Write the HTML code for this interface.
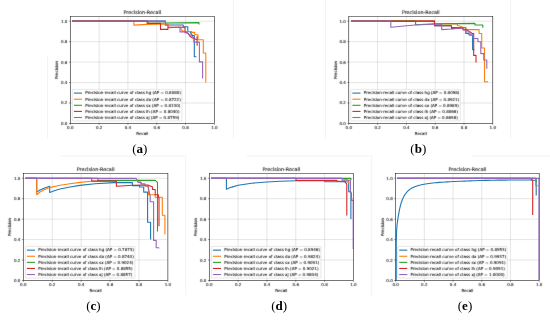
<!DOCTYPE html>
<html lang="en"><head><meta charset="utf-8"><title>Precision-Recall curves</title>
<style>
html,body{margin:0;padding:0;background:#fff;}
body{width:550px;height:323px;overflow:hidden;}
svg{display:block;}
.t{font-family:"DejaVu Sans","Liberation Sans",sans-serif;fill:#000;text-rendering:geometricPrecision;stroke:#000;stroke-width:0.28px;}
.c{font-family:"Liberation Serif",serif;fill:#000;}
</style></head><body>
<svg width="550" height="323" viewBox="0 0 550 323">
<rect width="550" height="323" fill="#fff"/>
<g>
<g stroke="#f3f3f3" stroke-width="1" fill="none"><path d="M47.5,56V138.5M233.4,0V138.5M325.5,0V138.5M510.5,0V138.5M60,156H185.7M246.6,156H371.7M472,156H550M185.7,156V295M371.7,156V296"/></g>
<g>
<path d="M70.30,16.40V123.45" stroke="#b0b0b0" stroke-width="0.32"/>
<path d="M70.30,123.45H214.40" stroke="#b0b0b0" stroke-width="0.32"/>
<path d="M99.12,16.40V123.45" stroke="#b0b0b0" stroke-width="0.32"/>
<path d="M70.30,103.00H214.40" stroke="#b0b0b0" stroke-width="0.32"/>
<path d="M127.94,16.40V123.45" stroke="#b0b0b0" stroke-width="0.32"/>
<path d="M70.30,82.55H214.40" stroke="#b0b0b0" stroke-width="0.32"/>
<path d="M156.76,16.40V123.45" stroke="#b0b0b0" stroke-width="0.32"/>
<path d="M70.30,62.10H214.40" stroke="#b0b0b0" stroke-width="0.32"/>
<path d="M185.58,16.40V123.45" stroke="#b0b0b0" stroke-width="0.32"/>
<path d="M70.30,41.65H214.40" stroke="#b0b0b0" stroke-width="0.32"/>
<path d="M214.40,16.40V123.45" stroke="#b0b0b0" stroke-width="0.32"/>
<path d="M70.30,21.20H214.40" stroke="#b0b0b0" stroke-width="0.32"/>
<clipPath id="cpa"><rect x="70.30" y="16.40" width="144.10" height="107.05"/></clipPath>
<g clip-path="url(#cpa)">
<path d="M72,21.1 H165.5 V25 H183.2 V26.8 H187.8 V31.5 H189.7 L192.5,35.6 H194.3 V56.7 H196.4" fill="none" stroke="#1f77b4" stroke-width="1.1" stroke-linejoin="round"/>
<path d="M72,21.1 H133.9 V25.1 L147,24.4 L160,24.2 H168.3 V27.3 H180.9 V29.1 L183.2,31.5 H191.5 V32.4 H194.8 V34.7 H198 V39.8 H203.3 V53 H205.8 V82.5" fill="none" stroke="#ff7f0e" stroke-width="1.1" stroke-linejoin="round"/>
<path d="M72,21.1 H147 V23.2 L199,22.6 V24.6" fill="none" stroke="#2ca02c" stroke-width="1.1" stroke-linejoin="round"/>
<path d="M72,21.1 H148 V23.4 H160.5 V29.4 H167.9 V27.7 L180,27.2 H185 V32.8 H187.8 L189.7,36.1 L192.5,38 L197.1,39.8 V36.5 V45.8" fill="none" stroke="#d62728" stroke-width="1.1" stroke-linejoin="round"/>
<path d="M72,21.1 H165.4 V25 H167.9 V27.3 H180 V31.9 H185 L190.6,35.2 L193.9,38 V42.1 H199.4 V61.9 H202.6 V78.4" fill="none" stroke="#9467bd" stroke-width="1.1" stroke-linejoin="round"/>
</g>
<rect x="72.30" y="89.35" width="109.6" height="31.6" rx="0.8" fill="#fff" fill-opacity="0.8" stroke="#ccc" stroke-width="0.45"/>
<path d="M73.90,93.10h8.1" stroke="#1f77b4" stroke-width="1.1"/>
<path d="M73.90,99.20h8.1" stroke="#ff7f0e" stroke-width="1.1"/>
<path d="M73.90,105.30h8.1" stroke="#2ca02c" stroke-width="1.1"/>
<path d="M73.90,111.40h8.1" stroke="#d62728" stroke-width="1.1"/>
<path d="M73.90,117.50h8.1" stroke="#9467bd" stroke-width="1.1"/>
<rect x="70.30" y="16.40" width="144.10" height="107.05" fill="none" stroke="#000" stroke-width="0.48"/>
<path d="M70.30,123.45v1.4" stroke="#000" stroke-width="0.4"/>
<path d="M70.30,123.45h-1.4" stroke="#000" stroke-width="0.4"/>
<path d="M99.12,123.45v1.4" stroke="#000" stroke-width="0.4"/>
<path d="M70.30,103.00h-1.4" stroke="#000" stroke-width="0.4"/>
<path d="M127.94,123.45v1.4" stroke="#000" stroke-width="0.4"/>
<path d="M70.30,82.55h-1.4" stroke="#000" stroke-width="0.4"/>
<path d="M156.76,123.45v1.4" stroke="#000" stroke-width="0.4"/>
<path d="M70.30,62.10h-1.4" stroke="#000" stroke-width="0.4"/>
<path d="M185.58,123.45v1.4" stroke="#000" stroke-width="0.4"/>
<path d="M70.30,41.65h-1.4" stroke="#000" stroke-width="0.4"/>
<path d="M214.40,123.45v1.4" stroke="#000" stroke-width="0.4"/>
<path d="M70.30,21.20h-1.4" stroke="#000" stroke-width="0.4"/>
<text x="139.80" y="152.80" font-size="13" text-anchor="middle" class="c">(<tspan font-weight="bold">a</tspan>)</text>
</g>
<g>
<path d="M348.80,16.40V123.45" stroke="#b0b0b0" stroke-width="0.32"/>
<path d="M348.80,123.45H492.80" stroke="#b0b0b0" stroke-width="0.32"/>
<path d="M377.60,16.40V123.45" stroke="#b0b0b0" stroke-width="0.32"/>
<path d="M348.80,103.00H492.80" stroke="#b0b0b0" stroke-width="0.32"/>
<path d="M406.40,16.40V123.45" stroke="#b0b0b0" stroke-width="0.32"/>
<path d="M348.80,82.55H492.80" stroke="#b0b0b0" stroke-width="0.32"/>
<path d="M435.20,16.40V123.45" stroke="#b0b0b0" stroke-width="0.32"/>
<path d="M348.80,62.10H492.80" stroke="#b0b0b0" stroke-width="0.32"/>
<path d="M464.00,16.40V123.45" stroke="#b0b0b0" stroke-width="0.32"/>
<path d="M348.80,41.65H492.80" stroke="#b0b0b0" stroke-width="0.32"/>
<path d="M492.80,16.40V123.45" stroke="#b0b0b0" stroke-width="0.32"/>
<path d="M348.80,21.20H492.80" stroke="#b0b0b0" stroke-width="0.32"/>
<clipPath id="cpb"><rect x="348.80" y="16.40" width="144.00" height="107.05"/></clipPath>
<g clip-path="url(#cpb)">
<path d="M351,21.1 H434.5 V25.7 H451.4 V27.5 H465.8 V33.5 H469 V35 H472.6 V49.8 H474.5" fill="none" stroke="#1f77b4" stroke-width="1.1" stroke-linejoin="round"/>
<path d="M351,21.1 H434.5 V24 H457.4 V25.5 L462,26.5 V28 H466 V29.6 H479.1 V33.5 H481.7 V48 H484.5 V81.7 H488" fill="none" stroke="#ff7f0e" stroke-width="1.1" stroke-linejoin="round"/>
<path d="M351,21.1 H415.6 V24.7 L434.5,23.8 L475,23.4 V25 H482.8 V27.7" fill="none" stroke="#2ca02c" stroke-width="1.1" stroke-linejoin="round"/>
<path d="M351,21.1 H434.5 V25.7 H451.5 V28.6 L463,28 V29.6 H466.5 L472.3,33.5 H473.7 V55.4 H476 V62.4" fill="none" stroke="#d62728" stroke-width="1.1" stroke-linejoin="round"/>
<path d="M351,21.1 H390.8 V27.2 L415,25 L434.5,24.2 H441.7 V29.6 L452,29 L463.2,27.7 V30 H466 V32 H470 V35 H473.4 V38.5 H477.9 V41.8 H480.8 V53.6 H483.8 V60 H486.8 V68.8" fill="none" stroke="#9467bd" stroke-width="1.1" stroke-linejoin="round"/>
</g>
<rect x="350.80" y="89.35" width="109.6" height="31.6" rx="0.8" fill="#fff" fill-opacity="0.8" stroke="#ccc" stroke-width="0.45"/>
<path d="M352.40,93.10h8.1" stroke="#1f77b4" stroke-width="1.1"/>
<path d="M352.40,99.20h8.1" stroke="#ff7f0e" stroke-width="1.1"/>
<path d="M352.40,105.30h8.1" stroke="#2ca02c" stroke-width="1.1"/>
<path d="M352.40,111.40h8.1" stroke="#d62728" stroke-width="1.1"/>
<path d="M352.40,117.50h8.1" stroke="#9467bd" stroke-width="1.1"/>
<rect x="348.80" y="16.40" width="144.00" height="107.05" fill="none" stroke="#000" stroke-width="0.48"/>
<path d="M348.80,123.45v1.4" stroke="#000" stroke-width="0.4"/>
<path d="M348.80,123.45h-1.4" stroke="#000" stroke-width="0.4"/>
<path d="M377.60,123.45v1.4" stroke="#000" stroke-width="0.4"/>
<path d="M348.80,103.00h-1.4" stroke="#000" stroke-width="0.4"/>
<path d="M406.40,123.45v1.4" stroke="#000" stroke-width="0.4"/>
<path d="M348.80,82.55h-1.4" stroke="#000" stroke-width="0.4"/>
<path d="M435.20,123.45v1.4" stroke="#000" stroke-width="0.4"/>
<path d="M348.80,62.10h-1.4" stroke="#000" stroke-width="0.4"/>
<path d="M464.00,123.45v1.4" stroke="#000" stroke-width="0.4"/>
<path d="M348.80,41.65h-1.4" stroke="#000" stroke-width="0.4"/>
<path d="M492.80,123.45v1.4" stroke="#000" stroke-width="0.4"/>
<path d="M348.80,21.20h-1.4" stroke="#000" stroke-width="0.4"/>
<text x="418.30" y="152.80" font-size="13" text-anchor="middle" class="c">(<tspan font-weight="bold">b</tspan>)</text>
</g>
<g>
<path d="M23.30,173.45V280.50" stroke="#b0b0b0" stroke-width="0.32"/>
<path d="M23.30,280.50H167.90" stroke="#b0b0b0" stroke-width="0.32"/>
<path d="M52.22,173.45V280.50" stroke="#b0b0b0" stroke-width="0.32"/>
<path d="M23.30,260.05H167.90" stroke="#b0b0b0" stroke-width="0.32"/>
<path d="M81.14,173.45V280.50" stroke="#b0b0b0" stroke-width="0.32"/>
<path d="M23.30,239.60H167.90" stroke="#b0b0b0" stroke-width="0.32"/>
<path d="M110.06,173.45V280.50" stroke="#b0b0b0" stroke-width="0.32"/>
<path d="M23.30,219.15H167.90" stroke="#b0b0b0" stroke-width="0.32"/>
<path d="M138.98,173.45V280.50" stroke="#b0b0b0" stroke-width="0.32"/>
<path d="M23.30,198.70H167.90" stroke="#b0b0b0" stroke-width="0.32"/>
<path d="M167.90,173.45V280.50" stroke="#b0b0b0" stroke-width="0.32"/>
<path d="M23.30,178.25H167.90" stroke="#b0b0b0" stroke-width="0.32"/>
<clipPath id="cpc"><rect x="23.30" y="173.45" width="144.60" height="107.05"/></clipPath>
<g clip-path="url(#cpc)">
<path d="M25.5,178.4 H36.7 V192.1 L40,190 L44,188.2 L49.7,186.3 V192.4 L55,190.5 L60,189 L70,187 L80,185.4 L95,183.8 L114,182.6 H132.4 V185.6 H139.5 V187 H143.7 V192.1 H147.6 V222.3 H150.6 V239.6" fill="none" stroke="#1f77b4" stroke-width="1.1" stroke-linejoin="round"/>
<path d="M25.5,178.4 H36.7 V194.7 L40,192 L44,189.8 L49.7,187.6 L60,185.2 L70,183.7 L80,182.4 L91.7,181.2 L110,180.8 H137.6 V182 H141 V184 H145 V186 H148.6 V194.7 H155.2 V197.3 H162.3 V215.2 H164.9 V234.4" fill="none" stroke="#ff7f0e" stroke-width="1.1" stroke-linejoin="round"/>
<path d="M25.5,178.4 H97.8 V180.4 H155.2 L157.5,182.4 V231.5" fill="none" stroke="#2ca02c" stroke-width="1.1" stroke-linejoin="round"/>
<path d="M25.5,178.4 H91.7 V181.1 H116.4 V186.3 L133,185.2 L148,185 L152.6,187 V189.5 H155.2 V194.7 H158.4 V197.3 H159 V226.3" fill="none" stroke="#d62728" stroke-width="1.1" stroke-linejoin="round"/>
<path d="M25.5,178.4 H136.3 L138.5,182.4 H141 V184 H145 V186 H148 V187 L150.2,196 V201.8 H153.6 V240.4 H156.2 V247.8 H158.8 V248.5" fill="none" stroke="#9467bd" stroke-width="1.1" stroke-linejoin="round"/>
</g>
<rect x="25.30" y="246.40" width="109.6" height="31.6" rx="0.8" fill="#fff" fill-opacity="0.8" stroke="#ccc" stroke-width="0.45"/>
<path d="M26.90,250.15h8.1" stroke="#1f77b4" stroke-width="1.1"/>
<path d="M26.90,256.25h8.1" stroke="#ff7f0e" stroke-width="1.1"/>
<path d="M26.90,262.35h8.1" stroke="#2ca02c" stroke-width="1.1"/>
<path d="M26.90,268.45h8.1" stroke="#d62728" stroke-width="1.1"/>
<path d="M26.90,274.55h8.1" stroke="#9467bd" stroke-width="1.1"/>
<rect x="23.30" y="173.45" width="144.60" height="107.05" fill="none" stroke="#000" stroke-width="0.48"/>
<path d="M23.30,280.50v1.4" stroke="#000" stroke-width="0.4"/>
<path d="M23.30,280.50h-1.4" stroke="#000" stroke-width="0.4"/>
<path d="M52.22,280.50v1.4" stroke="#000" stroke-width="0.4"/>
<path d="M23.30,260.05h-1.4" stroke="#000" stroke-width="0.4"/>
<path d="M81.14,280.50v1.4" stroke="#000" stroke-width="0.4"/>
<path d="M23.30,239.60h-1.4" stroke="#000" stroke-width="0.4"/>
<path d="M110.06,280.50v1.4" stroke="#000" stroke-width="0.4"/>
<path d="M23.30,219.15h-1.4" stroke="#000" stroke-width="0.4"/>
<path d="M138.98,280.50v1.4" stroke="#000" stroke-width="0.4"/>
<path d="M23.30,198.70h-1.4" stroke="#000" stroke-width="0.4"/>
<path d="M167.90,280.50v1.4" stroke="#000" stroke-width="0.4"/>
<path d="M23.30,178.25h-1.4" stroke="#000" stroke-width="0.4"/>
<text x="93.40" y="309.60" font-size="13" text-anchor="middle" class="c">(<tspan font-weight="bold">c</tspan>)</text>
</g>
<g>
<path d="M209.30,173.45V280.50" stroke="#b0b0b0" stroke-width="0.32"/>
<path d="M209.30,280.50H353.40" stroke="#b0b0b0" stroke-width="0.32"/>
<path d="M238.12,173.45V280.50" stroke="#b0b0b0" stroke-width="0.32"/>
<path d="M209.30,260.05H353.40" stroke="#b0b0b0" stroke-width="0.32"/>
<path d="M266.94,173.45V280.50" stroke="#b0b0b0" stroke-width="0.32"/>
<path d="M209.30,239.60H353.40" stroke="#b0b0b0" stroke-width="0.32"/>
<path d="M295.76,173.45V280.50" stroke="#b0b0b0" stroke-width="0.32"/>
<path d="M209.30,219.15H353.40" stroke="#b0b0b0" stroke-width="0.32"/>
<path d="M324.58,173.45V280.50" stroke="#b0b0b0" stroke-width="0.32"/>
<path d="M209.30,198.70H353.40" stroke="#b0b0b0" stroke-width="0.32"/>
<path d="M353.40,173.45V280.50" stroke="#b0b0b0" stroke-width="0.32"/>
<path d="M209.30,178.25H353.40" stroke="#b0b0b0" stroke-width="0.32"/>
<clipPath id="cpd"><rect x="209.30" y="173.45" width="144.10" height="107.05"/></clipPath>
<g clip-path="url(#cpd)">
<path d="M211,178.4 H226.4 V189.3 L229,188.1 L232,187.1 L238.1,185.3 L251.6,183.2 L266.8,182 L279.8,181.3 L296,180.7 L324.9,180.6 V181.7 H336.8 L344.4,181.8 L348.7,182 V191.7 H350.9 V218.9" fill="none" stroke="#1f77b4" stroke-width="1.1" stroke-linejoin="round"/>
<path d="M211,178.4 H341 L348.7,180.3 V183.6 M351.4,198.6 H352.6" fill="none" stroke="#ff7f0e" stroke-width="1.1" stroke-linejoin="round"/>
<path d="M211,178.4 H350.9 V180.3" fill="none" stroke="#2ca02c" stroke-width="1.1" stroke-linejoin="round"/>
<path d="M211,178.4 H296 V180.4 H336.8 V181.2 H344.4 L346.8,184.1 V215.6" fill="none" stroke="#d62728" stroke-width="1.1" stroke-linejoin="round"/>
<path d="M211,178.4 H342.2 V180.3 H350.4 V193 H351.5 V200.4 H353.2 V248.9" fill="none" stroke="#9467bd" stroke-width="1.1" stroke-linejoin="round"/>
</g>
<rect x="211.30" y="246.40" width="109.6" height="31.6" rx="0.8" fill="#fff" fill-opacity="0.8" stroke="#ccc" stroke-width="0.45"/>
<path d="M212.90,250.15h8.1" stroke="#1f77b4" stroke-width="1.1"/>
<path d="M212.90,256.25h8.1" stroke="#ff7f0e" stroke-width="1.1"/>
<path d="M212.90,262.35h8.1" stroke="#2ca02c" stroke-width="1.1"/>
<path d="M212.90,268.45h8.1" stroke="#d62728" stroke-width="1.1"/>
<path d="M212.90,274.55h8.1" stroke="#9467bd" stroke-width="1.1"/>
<rect x="209.30" y="173.45" width="144.10" height="107.05" fill="none" stroke="#000" stroke-width="0.48"/>
<path d="M209.30,280.50v1.4" stroke="#000" stroke-width="0.4"/>
<path d="M209.30,280.50h-1.4" stroke="#000" stroke-width="0.4"/>
<path d="M238.12,280.50v1.4" stroke="#000" stroke-width="0.4"/>
<path d="M209.30,260.05h-1.4" stroke="#000" stroke-width="0.4"/>
<path d="M266.94,280.50v1.4" stroke="#000" stroke-width="0.4"/>
<path d="M209.30,239.60h-1.4" stroke="#000" stroke-width="0.4"/>
<path d="M295.76,280.50v1.4" stroke="#000" stroke-width="0.4"/>
<path d="M209.30,219.15h-1.4" stroke="#000" stroke-width="0.4"/>
<path d="M324.58,280.50v1.4" stroke="#000" stroke-width="0.4"/>
<path d="M209.30,198.70h-1.4" stroke="#000" stroke-width="0.4"/>
<path d="M353.40,280.50v1.4" stroke="#000" stroke-width="0.4"/>
<path d="M209.30,178.25h-1.4" stroke="#000" stroke-width="0.4"/>
<text x="279.20" y="309.60" font-size="13" text-anchor="middle" class="c">(<tspan font-weight="bold">d</tspan>)</text>
</g>
<g>
<path d="M395.60,173.45V280.50" stroke="#b0b0b0" stroke-width="0.32"/>
<path d="M395.60,280.50H539.20" stroke="#b0b0b0" stroke-width="0.32"/>
<path d="M424.32,173.45V280.50" stroke="#b0b0b0" stroke-width="0.32"/>
<path d="M395.60,260.05H539.20" stroke="#b0b0b0" stroke-width="0.32"/>
<path d="M453.04,173.45V280.50" stroke="#b0b0b0" stroke-width="0.32"/>
<path d="M395.60,239.60H539.20" stroke="#b0b0b0" stroke-width="0.32"/>
<path d="M481.76,173.45V280.50" stroke="#b0b0b0" stroke-width="0.32"/>
<path d="M395.60,219.15H539.20" stroke="#b0b0b0" stroke-width="0.32"/>
<path d="M510.48,173.45V280.50" stroke="#b0b0b0" stroke-width="0.32"/>
<path d="M395.60,198.70H539.20" stroke="#b0b0b0" stroke-width="0.32"/>
<path d="M539.20,173.45V280.50" stroke="#b0b0b0" stroke-width="0.32"/>
<path d="M395.60,178.25H539.20" stroke="#b0b0b0" stroke-width="0.32"/>
<clipPath id="cpe"><rect x="395.60" y="173.45" width="143.60" height="107.05"/></clipPath>
<g clip-path="url(#cpe)">
<path d="M396.20,280.50 L396.20,276.54 L396.21,270.83 L396.22,264.18 L396.22,257.40 L396.24,251.31 L396.25,246.70 L396.27,243.75 L396.28,241.84 L396.30,240.61 L396.32,239.70 L396.35,238.75 L396.40,237.40 L396.45,235.69 L396.50,233.91 L396.57,232.10 L396.65,230.26 L396.75,228.42 L396.90,226.60 L397.08,224.79 L397.30,222.97 L397.54,221.15 L397.81,219.33 L398.10,217.51 L398.40,215.70 L398.72,213.86 L399.06,211.97 L399.42,210.09 L399.80,208.26 L400.19,206.51 L400.60,204.90 L401.03,203.42 L401.47,202.03 L401.93,200.74 L402.41,199.52 L402.90,198.38 L403.40,197.30 L403.91,196.30 L404.43,195.39 L404.96,194.56 L405.51,193.77 L406.09,193.03 L406.70,192.30 L407.33,191.60 L407.98,190.94 L408.65,190.31 L409.37,189.72 L410.14,189.15 L411.00,188.60 L411.96,188.07 L413.00,187.55 L414.11,187.06 L415.25,186.60 L416.39,186.18 L417.50,185.80 L418.53,185.47 L419.50,185.20 L420.47,184.97 L421.51,184.75 L422.66,184.53 L424.00,184.30 L425.51,184.05 L427.15,183.79 L428.91,183.53 L430.79,183.27 L432.78,183.03 L434.90,182.80 L437.16,182.59 L439.57,182.39 L442.10,182.20 L444.72,182.02 L447.40,181.86 L450.10,181.70 L452.86,181.56 L455.71,181.43 L458.61,181.32 L461.55,181.21 L464.49,181.11 L467.40,181.00 L470.26,180.89 L473.09,180.78 L475.92,180.68 L478.79,180.57 L481.74,180.48 L484.80,180.40 L487.95,180.33 L491.15,180.27 L494.43,180.22 L497.81,180.17 L501.32,180.13 L505.00,180.10 L509.18,180.07 L513.90,180.05 L518.76,180.03 L523.34,180.02 L527.22,180.01 L530.00,180.00 L536.20,180.50 L536.20,195.60" fill="none" stroke="#1f77b4" stroke-width="1.1" stroke-linejoin="round"/>
<path d="M397.3,178.4 H535.6 V185.8 H538.2" fill="none" stroke="#ff7f0e" stroke-width="1.1" stroke-linejoin="round"/>
<path d="M397.3,178.4 H536.2 V182" fill="none" stroke="#2ca02c" stroke-width="1.1" stroke-linejoin="round"/>
<path d="M397.3,178.4 H530.5 L532.7,180.5 V215" fill="none" stroke="#d62728" stroke-width="1.1" stroke-linejoin="round"/>
<path d="M397.3,178.4 H539 V280" fill="none" stroke="#9467bd" stroke-width="1.1" stroke-linejoin="round"/>
</g>
<rect x="397.60" y="246.40" width="109.6" height="31.6" rx="0.8" fill="#fff" fill-opacity="0.8" stroke="#ccc" stroke-width="0.45"/>
<path d="M399.20,250.15h8.1" stroke="#1f77b4" stroke-width="1.1"/>
<path d="M399.20,256.25h8.1" stroke="#ff7f0e" stroke-width="1.1"/>
<path d="M399.20,262.35h8.1" stroke="#2ca02c" stroke-width="1.1"/>
<path d="M399.20,268.45h8.1" stroke="#d62728" stroke-width="1.1"/>
<path d="M399.20,274.55h8.1" stroke="#9467bd" stroke-width="1.1"/>
<rect x="395.60" y="173.45" width="143.60" height="107.05" fill="none" stroke="#000" stroke-width="0.48"/>
<path d="M395.60,280.50v1.4" stroke="#000" stroke-width="0.4"/>
<path d="M395.60,280.50h-1.4" stroke="#000" stroke-width="0.4"/>
<path d="M424.32,280.50v1.4" stroke="#000" stroke-width="0.4"/>
<path d="M395.60,260.05h-1.4" stroke="#000" stroke-width="0.4"/>
<path d="M453.04,280.50v1.4" stroke="#000" stroke-width="0.4"/>
<path d="M395.60,239.60h-1.4" stroke="#000" stroke-width="0.4"/>
<path d="M481.76,280.50v1.4" stroke="#000" stroke-width="0.4"/>
<path d="M395.60,219.15h-1.4" stroke="#000" stroke-width="0.4"/>
<path d="M510.48,280.50v1.4" stroke="#000" stroke-width="0.4"/>
<path d="M395.60,198.70h-1.4" stroke="#000" stroke-width="0.4"/>
<path d="M539.20,280.50v1.4" stroke="#000" stroke-width="0.4"/>
<path d="M395.60,178.25h-1.4" stroke="#000" stroke-width="0.4"/>
<text x="465.00" y="309.60" font-size="13" text-anchor="middle" class="c">(<tspan font-weight="bold">e</tspan>)</text>
</g>
<filter id="sm" x="0" y="0" width="550" height="323" filterUnits="userSpaceOnUse" color-interpolation-filters="sRGB"><feConvolveMatrix order="3" kernelMatrix="0.02 0.07 0.02 0.07 0.64 0.07 0.02 0.07 0.02" divisor="1" edgeMode="none" preserveAlpha="false"/></filter>
<g filter="url(#sm)">
<text transform="translate(85.30,94.40) rotate(0.03) scale(0.2909)" font-size="13.89" text-anchor="start" class="t">Precision-recall curve of class hg (AP = 0.8080)</text>
<text transform="translate(85.30,100.50) rotate(0.03) scale(0.2909)" font-size="13.89" text-anchor="start" class="t">Precision-recall curve of class dx (AP = 0.8722)</text>
<text transform="translate(85.30,106.60) rotate(0.03) scale(0.2909)" font-size="13.89" text-anchor="start" class="t">Precision-recall curve of class sx (AP = 0.8130)</text>
<text transform="translate(85.30,112.70) rotate(0.03) scale(0.2909)" font-size="13.89" text-anchor="start" class="t">Precision-recall curve of class lh (AP = 0.8040)</text>
<text transform="translate(85.30,118.80) rotate(0.03) scale(0.2909)" font-size="13.89" text-anchor="start" class="t">Precision-recall curve of class xj (AP = 0.8759)</text>
<text transform="translate(70.30,129.15) rotate(0.03) scale(0.2909)" font-size="13.89" text-anchor="middle" class="t">0.0</text>
<text transform="translate(67.40,124.95) rotate(0.03) scale(0.2909)" font-size="13.89" text-anchor="end" class="t">0.0</text>
<text transform="translate(99.12,129.15) rotate(0.03) scale(0.2909)" font-size="13.89" text-anchor="middle" class="t">0.2</text>
<text transform="translate(67.40,104.50) rotate(0.03) scale(0.2909)" font-size="13.89" text-anchor="end" class="t">0.2</text>
<text transform="translate(127.94,129.15) rotate(0.03) scale(0.2909)" font-size="13.89" text-anchor="middle" class="t">0.4</text>
<text transform="translate(67.40,84.05) rotate(0.03) scale(0.2909)" font-size="13.89" text-anchor="end" class="t">0.4</text>
<text transform="translate(156.76,129.15) rotate(0.03) scale(0.2909)" font-size="13.89" text-anchor="middle" class="t">0.6</text>
<text transform="translate(67.40,63.60) rotate(0.03) scale(0.2909)" font-size="13.89" text-anchor="end" class="t">0.6</text>
<text transform="translate(185.58,129.15) rotate(0.03) scale(0.2909)" font-size="13.89" text-anchor="middle" class="t">0.8</text>
<text transform="translate(67.40,43.15) rotate(0.03) scale(0.2909)" font-size="13.89" text-anchor="end" class="t">0.8</text>
<text transform="translate(214.40,129.15) rotate(0.03) scale(0.2909)" font-size="13.89" text-anchor="middle" class="t">1.0</text>
<text transform="translate(67.40,22.70) rotate(0.03) scale(0.2909)" font-size="13.89" text-anchor="end" class="t">1.0</text>
<text transform="translate(142.35,134.75) rotate(0.03) scale(0.2909)" font-size="13.89" text-anchor="middle" class="t">Recall</text>
<text transform="translate(58.30,69.92) rotate(-89.97) scale(0.2909)" font-size="13.89" text-anchor="middle" class="t">Precision</text>
<text transform="translate(142.35,13.80) rotate(0.03) scale(0.2909)" font-size="16.67" text-anchor="middle" class="t">Precision-Recall</text>
<text transform="translate(363.80,94.40) rotate(0.03) scale(0.2909)" font-size="13.89" text-anchor="start" class="t">Precision-recall curve of class hg (AP = 0.8098)</text>
<text transform="translate(363.80,100.50) rotate(0.03) scale(0.2909)" font-size="13.89" text-anchor="start" class="t">Precision-recall curve of class dx (AP = 0.8921)</text>
<text transform="translate(363.80,106.60) rotate(0.03) scale(0.2909)" font-size="13.89" text-anchor="start" class="t">Precision-recall curve of class sx (AP = 0.8989)</text>
<text transform="translate(363.80,112.70) rotate(0.03) scale(0.2909)" font-size="13.89" text-anchor="start" class="t">Precision-recall curve of class lh (AP = 0.8066)</text>
<text transform="translate(363.80,118.80) rotate(0.03) scale(0.2909)" font-size="13.89" text-anchor="start" class="t">Precision-recall curve of class xj (AP = 0.8698)</text>
<text transform="translate(348.80,129.15) rotate(0.03) scale(0.2909)" font-size="13.89" text-anchor="middle" class="t">0.0</text>
<text transform="translate(345.90,124.95) rotate(0.03) scale(0.2909)" font-size="13.89" text-anchor="end" class="t">0.0</text>
<text transform="translate(377.60,129.15) rotate(0.03) scale(0.2909)" font-size="13.89" text-anchor="middle" class="t">0.2</text>
<text transform="translate(345.90,104.50) rotate(0.03) scale(0.2909)" font-size="13.89" text-anchor="end" class="t">0.2</text>
<text transform="translate(406.40,129.15) rotate(0.03) scale(0.2909)" font-size="13.89" text-anchor="middle" class="t">0.4</text>
<text transform="translate(345.90,84.05) rotate(0.03) scale(0.2909)" font-size="13.89" text-anchor="end" class="t">0.4</text>
<text transform="translate(435.20,129.15) rotate(0.03) scale(0.2909)" font-size="13.89" text-anchor="middle" class="t">0.6</text>
<text transform="translate(345.90,63.60) rotate(0.03) scale(0.2909)" font-size="13.89" text-anchor="end" class="t">0.6</text>
<text transform="translate(464.00,129.15) rotate(0.03) scale(0.2909)" font-size="13.89" text-anchor="middle" class="t">0.8</text>
<text transform="translate(345.90,43.15) rotate(0.03) scale(0.2909)" font-size="13.89" text-anchor="end" class="t">0.8</text>
<text transform="translate(492.80,129.15) rotate(0.03) scale(0.2909)" font-size="13.89" text-anchor="middle" class="t">1.0</text>
<text transform="translate(345.90,22.70) rotate(0.03) scale(0.2909)" font-size="13.89" text-anchor="end" class="t">1.0</text>
<text transform="translate(420.80,134.75) rotate(0.03) scale(0.2909)" font-size="13.89" text-anchor="middle" class="t">Recall</text>
<text transform="translate(336.80,69.92) rotate(-89.97) scale(0.2909)" font-size="13.89" text-anchor="middle" class="t">Precision</text>
<text transform="translate(420.80,13.80) rotate(0.03) scale(0.2909)" font-size="16.67" text-anchor="middle" class="t">Precision-Recall</text>
<text transform="translate(38.30,251.45) rotate(0.03) scale(0.2909)" font-size="13.89" text-anchor="start" class="t">Precision-recall curve of class hg (AP = 0.7873)</text>
<text transform="translate(38.30,257.55) rotate(0.03) scale(0.2909)" font-size="13.89" text-anchor="start" class="t">Precision-recall curve of class dx (AP = 0.8740)</text>
<text transform="translate(38.30,263.65) rotate(0.03) scale(0.2909)" font-size="13.89" text-anchor="start" class="t">Precision-recall curve of class sx (AP = 0.9024)</text>
<text transform="translate(38.30,269.75) rotate(0.03) scale(0.2909)" font-size="13.89" text-anchor="start" class="t">Precision-recall curve of class lh (AP = 0.8855)</text>
<text transform="translate(38.30,275.85) rotate(0.03) scale(0.2909)" font-size="13.89" text-anchor="start" class="t">Precision-recall curve of class xj (AP = 0.8857)</text>
<text transform="translate(23.30,286.20) rotate(0.03) scale(0.2909)" font-size="13.89" text-anchor="middle" class="t">0.0</text>
<text transform="translate(20.40,282.00) rotate(0.03) scale(0.2909)" font-size="13.89" text-anchor="end" class="t">0.0</text>
<text transform="translate(52.22,286.20) rotate(0.03) scale(0.2909)" font-size="13.89" text-anchor="middle" class="t">0.2</text>
<text transform="translate(20.40,261.55) rotate(0.03) scale(0.2909)" font-size="13.89" text-anchor="end" class="t">0.2</text>
<text transform="translate(81.14,286.20) rotate(0.03) scale(0.2909)" font-size="13.89" text-anchor="middle" class="t">0.4</text>
<text transform="translate(20.40,241.10) rotate(0.03) scale(0.2909)" font-size="13.89" text-anchor="end" class="t">0.4</text>
<text transform="translate(110.06,286.20) rotate(0.03) scale(0.2909)" font-size="13.89" text-anchor="middle" class="t">0.6</text>
<text transform="translate(20.40,220.65) rotate(0.03) scale(0.2909)" font-size="13.89" text-anchor="end" class="t">0.6</text>
<text transform="translate(138.98,286.20) rotate(0.03) scale(0.2909)" font-size="13.89" text-anchor="middle" class="t">0.8</text>
<text transform="translate(20.40,200.20) rotate(0.03) scale(0.2909)" font-size="13.89" text-anchor="end" class="t">0.8</text>
<text transform="translate(167.90,286.20) rotate(0.03) scale(0.2909)" font-size="13.89" text-anchor="middle" class="t">1.0</text>
<text transform="translate(20.40,179.75) rotate(0.03) scale(0.2909)" font-size="13.89" text-anchor="end" class="t">1.0</text>
<text transform="translate(95.60,291.80) rotate(0.03) scale(0.2909)" font-size="13.89" text-anchor="middle" class="t">Recall</text>
<text transform="translate(11.30,226.97) rotate(-89.97) scale(0.2909)" font-size="13.89" text-anchor="middle" class="t">Precision</text>
<text transform="translate(95.60,170.85) rotate(0.03) scale(0.2909)" font-size="16.67" text-anchor="middle" class="t">Precision-Recall</text>
<text transform="translate(224.30,251.45) rotate(0.03) scale(0.2909)" font-size="13.89" text-anchor="start" class="t">Precision-recall curve of class hg (AP = 0.8946)</text>
<text transform="translate(224.30,257.55) rotate(0.03) scale(0.2909)" font-size="13.89" text-anchor="start" class="t">Precision-recall curve of class dx (AP = 0.9824)</text>
<text transform="translate(224.30,263.65) rotate(0.03) scale(0.2909)" font-size="13.89" text-anchor="start" class="t">Precision-recall curve of class sx (AP = 0.9091)</text>
<text transform="translate(224.30,269.75) rotate(0.03) scale(0.2909)" font-size="13.89" text-anchor="start" class="t">Precision-recall curve of class lh (AP = 0.9021)</text>
<text transform="translate(224.30,275.85) rotate(0.03) scale(0.2909)" font-size="13.89" text-anchor="start" class="t">Precision-recall curve of class xj (AP = 0.9804)</text>
<text transform="translate(209.30,286.20) rotate(0.03) scale(0.2909)" font-size="13.89" text-anchor="middle" class="t">0.0</text>
<text transform="translate(206.40,282.00) rotate(0.03) scale(0.2909)" font-size="13.89" text-anchor="end" class="t">0.0</text>
<text transform="translate(238.12,286.20) rotate(0.03) scale(0.2909)" font-size="13.89" text-anchor="middle" class="t">0.2</text>
<text transform="translate(206.40,261.55) rotate(0.03) scale(0.2909)" font-size="13.89" text-anchor="end" class="t">0.2</text>
<text transform="translate(266.94,286.20) rotate(0.03) scale(0.2909)" font-size="13.89" text-anchor="middle" class="t">0.4</text>
<text transform="translate(206.40,241.10) rotate(0.03) scale(0.2909)" font-size="13.89" text-anchor="end" class="t">0.4</text>
<text transform="translate(295.76,286.20) rotate(0.03) scale(0.2909)" font-size="13.89" text-anchor="middle" class="t">0.6</text>
<text transform="translate(206.40,220.65) rotate(0.03) scale(0.2909)" font-size="13.89" text-anchor="end" class="t">0.6</text>
<text transform="translate(324.58,286.20) rotate(0.03) scale(0.2909)" font-size="13.89" text-anchor="middle" class="t">0.8</text>
<text transform="translate(206.40,200.20) rotate(0.03) scale(0.2909)" font-size="13.89" text-anchor="end" class="t">0.8</text>
<text transform="translate(353.40,286.20) rotate(0.03) scale(0.2909)" font-size="13.89" text-anchor="middle" class="t">1.0</text>
<text transform="translate(206.40,179.75) rotate(0.03) scale(0.2909)" font-size="13.89" text-anchor="end" class="t">1.0</text>
<text transform="translate(281.35,291.80) rotate(0.03) scale(0.2909)" font-size="13.89" text-anchor="middle" class="t">Recall</text>
<text transform="translate(197.30,226.97) rotate(-89.97) scale(0.2909)" font-size="13.89" text-anchor="middle" class="t">Precision</text>
<text transform="translate(281.35,170.85) rotate(0.03) scale(0.2909)" font-size="16.67" text-anchor="middle" class="t">Precision-Recall</text>
<text transform="translate(410.60,251.45) rotate(0.03) scale(0.2909)" font-size="13.89" text-anchor="start" class="t">Precision-recall curve of class hg (AP = 0.8953)</text>
<text transform="translate(410.60,257.55) rotate(0.03) scale(0.2909)" font-size="13.89" text-anchor="start" class="t">Precision-recall curve of class dx (AP = 0.9937)</text>
<text transform="translate(410.60,263.65) rotate(0.03) scale(0.2909)" font-size="13.89" text-anchor="start" class="t">Precision-recall curve of class sx (AP = 0.9091)</text>
<text transform="translate(410.60,269.75) rotate(0.03) scale(0.2909)" font-size="13.89" text-anchor="start" class="t">Precision-recall curve of class lh (AP = 0.9091)</text>
<text transform="translate(410.60,275.85) rotate(0.03) scale(0.2909)" font-size="13.89" text-anchor="start" class="t">Precision-recall curve of class xj (AP = 1.0000)</text>
<text transform="translate(395.60,286.20) rotate(0.03) scale(0.2909)" font-size="13.89" text-anchor="middle" class="t">0.0</text>
<text transform="translate(392.70,282.00) rotate(0.03) scale(0.2909)" font-size="13.89" text-anchor="end" class="t">0.0</text>
<text transform="translate(424.32,286.20) rotate(0.03) scale(0.2909)" font-size="13.89" text-anchor="middle" class="t">0.2</text>
<text transform="translate(392.70,261.55) rotate(0.03) scale(0.2909)" font-size="13.89" text-anchor="end" class="t">0.2</text>
<text transform="translate(453.04,286.20) rotate(0.03) scale(0.2909)" font-size="13.89" text-anchor="middle" class="t">0.4</text>
<text transform="translate(392.70,241.10) rotate(0.03) scale(0.2909)" font-size="13.89" text-anchor="end" class="t">0.4</text>
<text transform="translate(481.76,286.20) rotate(0.03) scale(0.2909)" font-size="13.89" text-anchor="middle" class="t">0.6</text>
<text transform="translate(392.70,220.65) rotate(0.03) scale(0.2909)" font-size="13.89" text-anchor="end" class="t">0.6</text>
<text transform="translate(510.48,286.20) rotate(0.03) scale(0.2909)" font-size="13.89" text-anchor="middle" class="t">0.8</text>
<text transform="translate(392.70,200.20) rotate(0.03) scale(0.2909)" font-size="13.89" text-anchor="end" class="t">0.8</text>
<text transform="translate(539.20,286.20) rotate(0.03) scale(0.2909)" font-size="13.89" text-anchor="middle" class="t">1.0</text>
<text transform="translate(392.70,179.75) rotate(0.03) scale(0.2909)" font-size="13.89" text-anchor="end" class="t">1.0</text>
<text transform="translate(467.40,291.80) rotate(0.03) scale(0.2909)" font-size="13.89" text-anchor="middle" class="t">Recall</text>
<text transform="translate(383.60,226.97) rotate(-89.97) scale(0.2909)" font-size="13.89" text-anchor="middle" class="t">Precision</text>
<text transform="translate(467.40,170.85) rotate(0.03) scale(0.2909)" font-size="16.67" text-anchor="middle" class="t">Precision-Recall</text>
</g>
</g></svg></body></html>
